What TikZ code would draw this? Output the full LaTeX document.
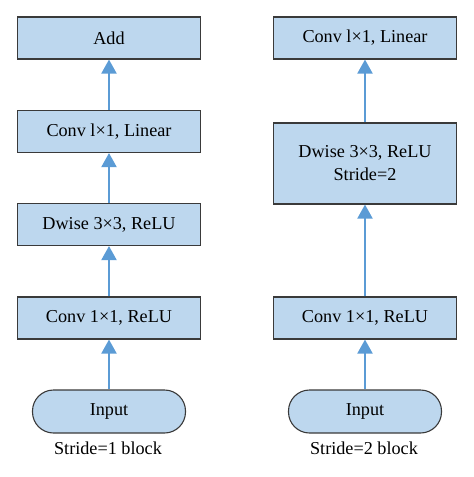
\documentclass[tikz,border=0pt]{standalone}
\usepackage{fontspec}
\setmainfont{Liberation Serif}
\usetikzlibrary{
    positioning,
    arrows.meta
}
\definecolor{boxblue}{HTML}{BDD7EE}
\definecolor{arrowblue}{HTML}{5B9BD5}
\definecolor{edgegray}{HTML}{3A3A3A}

\tikzset{
  layer/.style={draw=edgegray, fill=boxblue, line width=1.1pt,
    minimum width=183pt, minimum height=42pt, inner sep=0pt,
    font=\fontsize{18.2}{23}\selectfont, align=center},
  inputbox/.style={layer, minimum width=153pt, minimum height=43pt,
    rounded corners=21pt},
  caption/.style={font=\fontsize{18.2}{23}\selectfont},
  flow/.style={color=arrowblue, line width=2pt,
    -{Triangle[width=15pt,length=14pt]}}
}

\begin{document}
\begin{tikzpicture}[x=1pt,y=-1pt]
\useasboundingbox (0,0) rectangle (474,477);

% stride 1 block
\node[layer] (addA) at (109,38) {Add};
\node[layer] (linA) at (109,131.5) {Conv l×1, Linear};
\node[layer] (dwA) at (109,224.5) {Dwise 3×3, ReLU};
\node[layer] (expA) at (109,318) {Conv 1×1, ReLU};
\node[inputbox] (inA) at (109,411.5) {Input};
\node[caption] (capA) at (108,448) {Stride=1 block};

\draw[flow] (inA) -- (expA);
\draw[flow] (expA) -- (dwA);
\draw[flow] (dwA) -- (linA);
\draw[flow] (linA) -- (addA);

% stride 2 block
\node[layer] (linB) at (365,38) {Conv l×1, Linear};
\node[layer, minimum height=81pt] (dwB) at (365,163.5) {Dwise 3×3, ReLU\\Stride=2};
\node[layer] (expB) at (365,318) {Conv 1×1, ReLU};
\node[inputbox] (inB) at (365,411.5) {Input};
\node[caption] (capB) at (364,448) {Stride=2 block};

\draw[flow] (inB) -- (expB);
\draw[flow] (expB) -- (dwB);
\draw[flow] (dwB) -- (linB);
\end{tikzpicture}
\end{document}
